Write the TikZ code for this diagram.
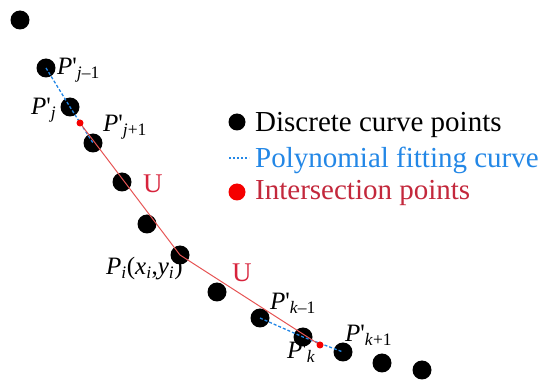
\documentclass[tikz,border=0pt]{standalone}
\usepackage{fontspec}
\setmainfont{Liberation Serif}
\usetikzlibrary{positioning}
\definecolor{fitBlue}{RGB}{35,135,230}
\definecolor{uRed}{RGB}{230,85,85}
\definecolor{uText}{RGB}{215,35,60}
\definecolor{interText}{RGB}{195,40,60}
\definecolor{interDot}{RGB}{245,0,0}
\newcommand{\ptlbl}[1]{\textit{P}\textquotesingle\textsubscript{#1}}

\begin{document}
\begin{tikzpicture}[x=1pt, y=-1pt,
  curvept/.style={circle, fill=black, inner sep=0pt, minimum size=19pt},
  interpt/.style={circle, fill=interDot, inner sep=0pt, minimum size=7pt},
  ptname/.style={font=\fontsize{25}{28}\selectfont, anchor=base west, inner sep=0pt},
  ulabel/.style={font=\fontsize{27}{30}\selectfont, text=uText, anchor=base west, inner sep=0pt},
  legtext/.style={font=\fontsize{29}{33}\selectfont, anchor=base west, inner sep=0pt},
  fitline/.style={fitBlue, line width=1.3pt, dash pattern=on 3pt off 2pt},
  uline/.style={uRed, line width=1pt}]
  \useasboundingbox (0,0) rectangle (550,385);
  % Discrete curve points
  \foreach \px/\py [count=\n] in {20/20, 46/68, 70/107, 93/143, 122/182, 147/224,
      180/255, 217/292, 260/318, 303/337, 343/352, 382/363, 422/370}
    \node[curvept] (d\n) at (\px,\py) {};
  \coordinate (ij) at (80,123);
  \coordinate (ik) at (320,345);
  % Fitting curves and distances U
  \draw[fitline] (d2.center) -- (d3.center) -- (d4.center);
  \draw[fitline] (d9.center) -- (d10.center) -- (d11.center);
  \draw[uline] (ij) -- (d7.center) -- (ik);
  \node[interpt] (ijdot) at (ij) {};
  \node[interpt] (ikdot) at (ik) {};
  % Point names
  \node[ptname] (lj1) at (57,75) {\ptlbl{\textit{j}--1}};
  \node[ptname] (lj) at (31,115) {\ptlbl{\textit{j}}};
  \node[ptname] (lj2) at (103,132) {\ptlbl{\textit{j}+1}};
  \node[ptname] (li) at (106,275)
    {\textit{P\textsubscript{i}}(\textit{x\textsubscript{i}},\textit{y\textsubscript{i}})};
  \node[ptname] (lk1) at (270,310) {\ptlbl{\textit{k}--1}};
  \node[ptname] (lk) at (287,359) {\ptlbl{\textit{k}}};
  \node[ptname] (lk2) at (345,342) {\ptlbl{\textit{k}+1}};
  \node[ulabel] (u1) at (143,193) {U};
  \node[ulabel] (u2) at (232,282) {U};
  % Legend
  \node[curvept, minimum size=17pt] (kdot) at (237,122) {};
  \node[legtext] (ktext) at (255,132) {Discrete curve points};
  \coordinate (fa) at (229,158);
  \coordinate (fb) at (249,158);
  \draw[fitBlue, line width=1.2pt, dash pattern=on 2pt off 2pt] (fa) -- (fb);
  \node[legtext, text=fitBlue] (ftext) at (255,168) {Polynomial fitting curve};
  \node[interpt, minimum size=17pt] (idot) at (237,192) {};
  \node[legtext, text=interText] (itext) at (255,200) {Intersection points};
\end{tikzpicture}
\end{document}
